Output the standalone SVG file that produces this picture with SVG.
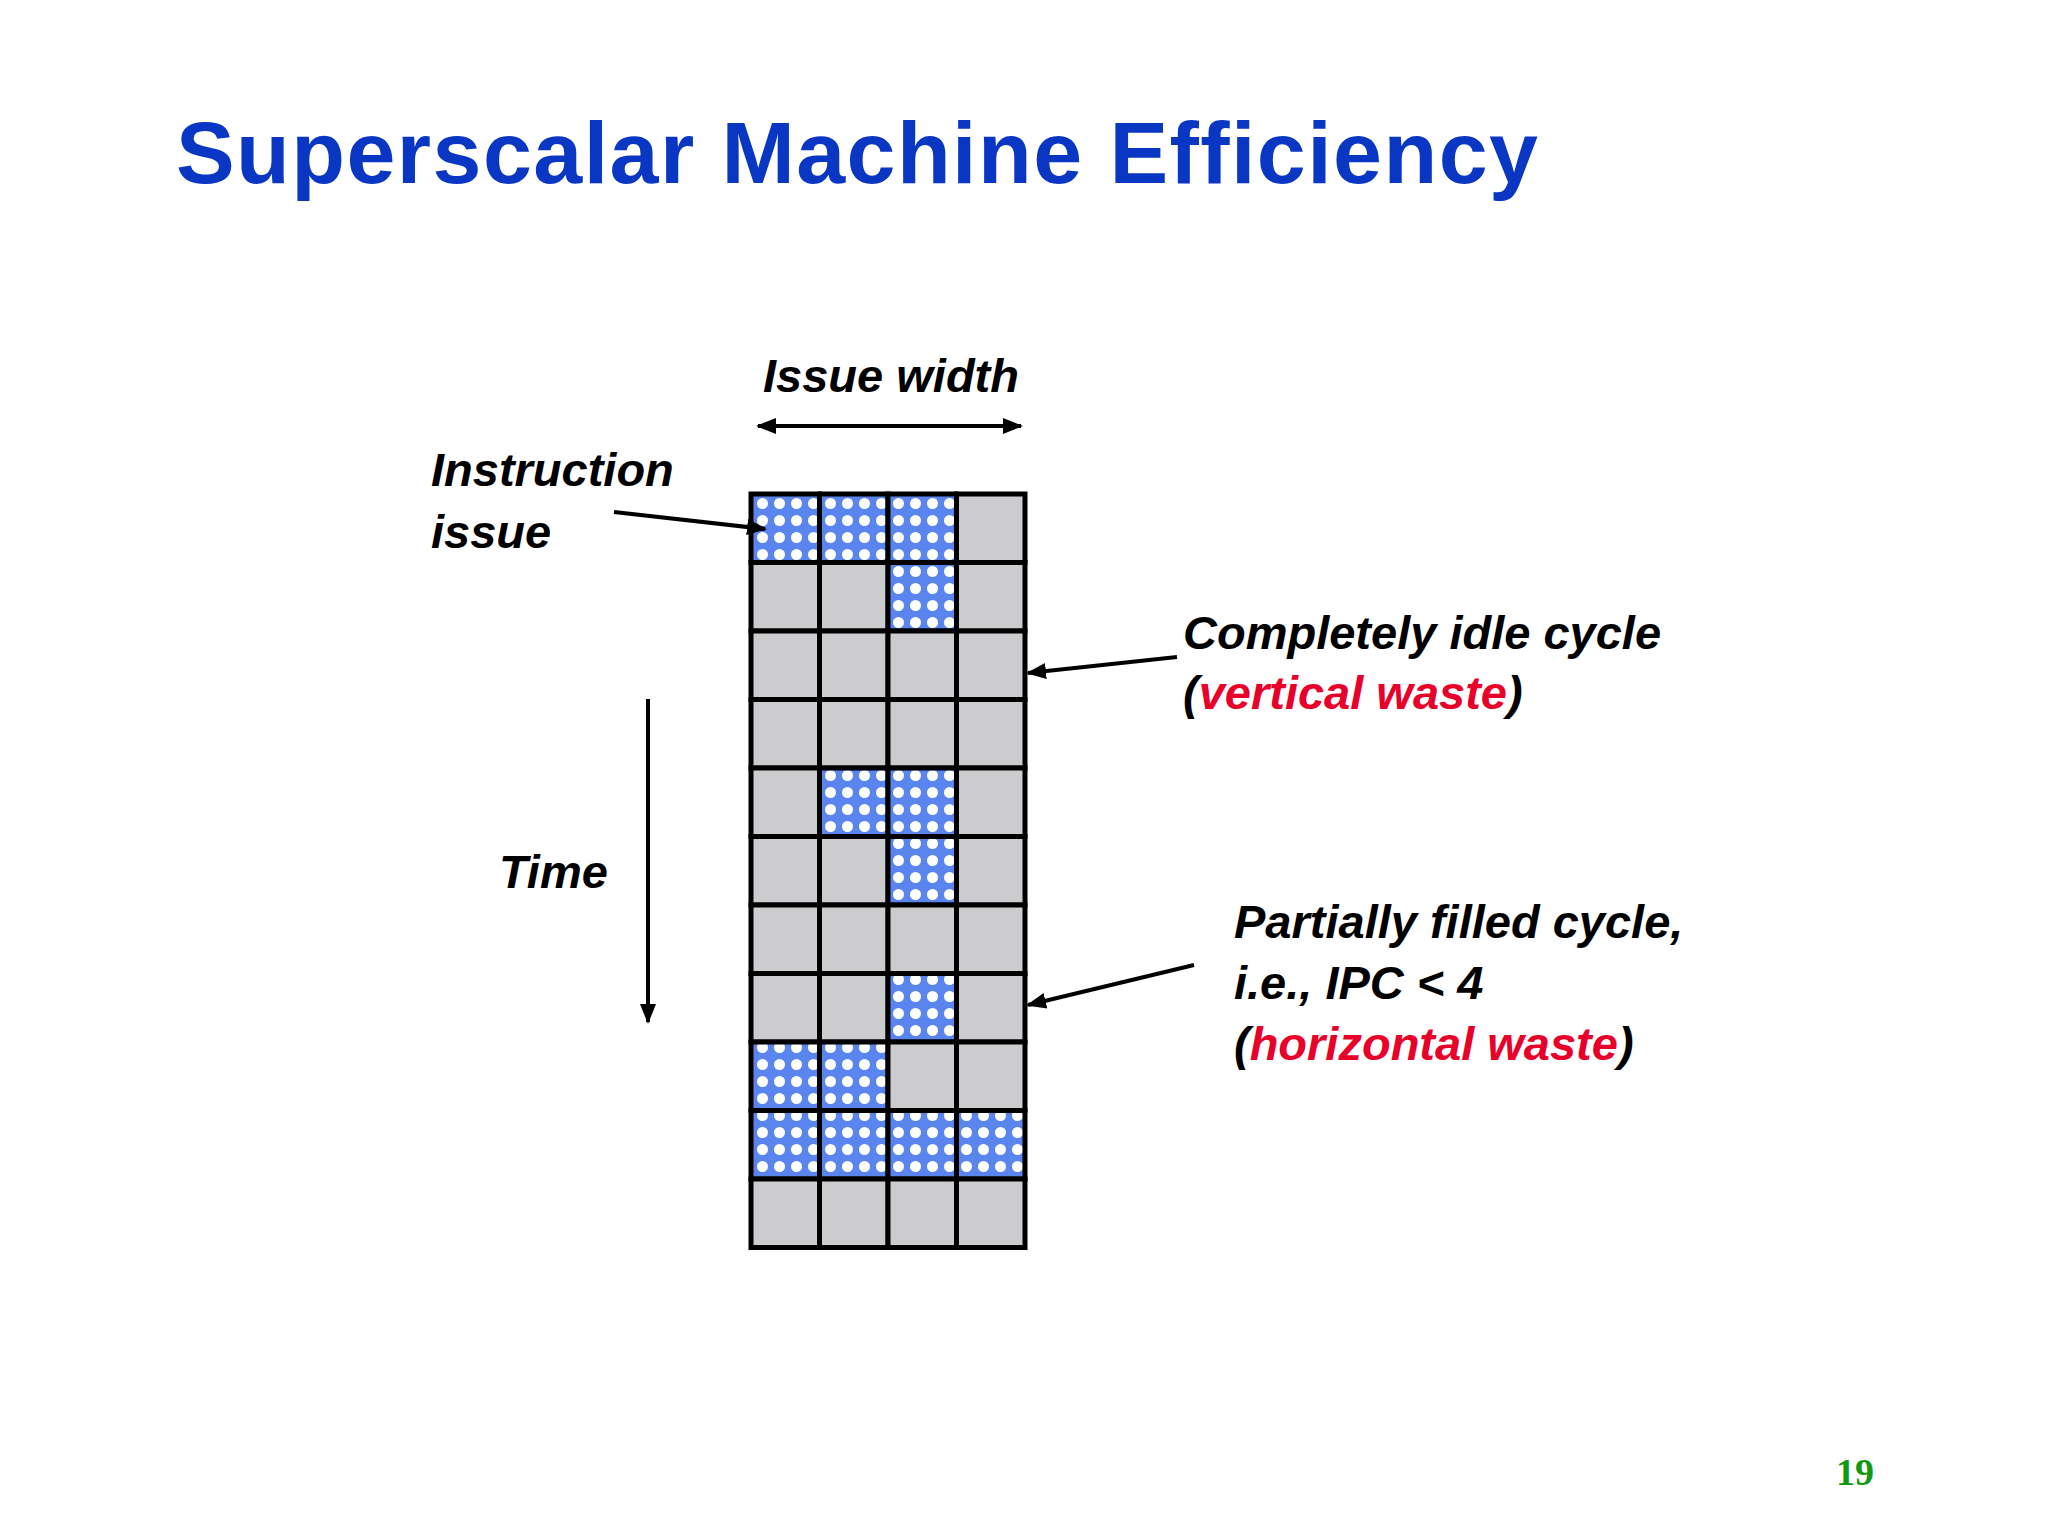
<svg xmlns="http://www.w3.org/2000/svg" width="2048" height="1536" viewBox="0 0 2048 1536">
<defs>
<pattern id="dots" width="17" height="17" patternUnits="userSpaceOnUse" x="751" y="494">
<rect width="17" height="17" fill="#5B85EE"/>
<circle cx="8.5" cy="8.5" r="5.5" fill="#fff"/>
</pattern>
<marker id="ah" viewBox="0 0 10 10" refX="9" refY="5" markerWidth="5" markerHeight="5" orient="auto-start-reverse"><path d="M0,1 L10,5 L0,9 z" fill="#000"/></marker>
</defs>
<style>
.t{font-family:"Liberation Sans",Arial,sans-serif;font-weight:bold;font-style:italic;font-size:47px;fill:#000}
.r{fill:#E8002A}
.g{fill:#CCCBCD;stroke:#000;stroke-width:5}
.b{fill:url(#dots);stroke:#000;stroke-width:5}
.c{stroke:#000;stroke-width:4;fill:none;marker-end:url(#ah)}
</style>
<rect width="2048" height="1536" fill="#fff"/>
<text x="176" y="183" font-family="'Liberation Sans',Arial,sans-serif" font-weight="bold" font-size="88" fill="#0A36C4" textLength="1362">Superscalar Machine Efficiency</text>
<g id="grid">
<g transform="translate(751,494)">
<rect class="b" x="0" y="0" width="68.5" height="68.5"/><rect class="b" x="68.5" y="0" width="68.5" height="68.5"/><rect class="b" x="137" y="0" width="68.5" height="68.5"/><rect class="g" x="205.5" y="0" width="68.5" height="68.5"/>
<rect class="g" x="0" y="68.5" width="68.5" height="68.5"/><rect class="g" x="68.5" y="68.5" width="68.5" height="68.5"/><rect class="b" x="137" y="68.5" width="68.5" height="68.5"/><rect class="g" x="205.5" y="68.5" width="68.5" height="68.5"/>
<rect class="g" x="0" y="137" width="68.5" height="68.5"/><rect class="g" x="68.5" y="137" width="68.5" height="68.5"/><rect class="g" x="137" y="137" width="68.5" height="68.5"/><rect class="g" x="205.5" y="137" width="68.5" height="68.5"/>
<rect class="g" x="0" y="205.5" width="68.5" height="68.5"/><rect class="g" x="68.5" y="205.5" width="68.5" height="68.5"/><rect class="g" x="137" y="205.5" width="68.5" height="68.5"/><rect class="g" x="205.5" y="205.5" width="68.5" height="68.5"/>
<rect class="g" x="0" y="274" width="68.5" height="68.5"/><rect class="b" x="68.5" y="274" width="68.5" height="68.5"/><rect class="b" x="137" y="274" width="68.5" height="68.5"/><rect class="g" x="205.5" y="274" width="68.5" height="68.5"/>
<rect class="g" x="0" y="342.5" width="68.5" height="68.5"/><rect class="g" x="68.5" y="342.5" width="68.5" height="68.5"/><rect class="b" x="137" y="342.5" width="68.5" height="68.5"/><rect class="g" x="205.5" y="342.5" width="68.5" height="68.5"/>
<rect class="g" x="0" y="411" width="68.5" height="68.5"/><rect class="g" x="68.5" y="411" width="68.5" height="68.5"/><rect class="g" x="137" y="411" width="68.5" height="68.5"/><rect class="g" x="205.5" y="411" width="68.5" height="68.5"/>
<rect class="g" x="0" y="479.5" width="68.5" height="68.5"/><rect class="g" x="68.5" y="479.5" width="68.5" height="68.5"/><rect class="b" x="137" y="479.5" width="68.5" height="68.5"/><rect class="g" x="205.5" y="479.5" width="68.5" height="68.5"/>
<rect class="b" x="0" y="548" width="68.5" height="68.5"/><rect class="b" x="68.5" y="548" width="68.5" height="68.5"/><rect class="g" x="137" y="548" width="68.5" height="68.5"/><rect class="g" x="205.5" y="548" width="68.5" height="68.5"/>
<rect class="b" x="0" y="616.5" width="68.5" height="68.5"/><rect class="b" x="68.5" y="616.5" width="68.5" height="68.5"/><rect class="b" x="137" y="616.5" width="68.5" height="68.5"/><rect class="b" x="205.5" y="616.5" width="68.5" height="68.5"/>
<rect class="g" x="0" y="685" width="68.5" height="68.5"/><rect class="g" x="68.5" y="685" width="68.5" height="68.5"/><rect class="g" x="137" y="685" width="68.5" height="68.5"/><rect class="g" x="205.5" y="685" width="68.5" height="68.5"/>
</g>
</g>
<g id="issue-width"><text class="t" x="891" y="392" text-anchor="middle">Issue width</text></g>
<g id="instruction-issue"><text class="t" x="431" y="486">Instruction</text><text class="t" x="431" y="548">issue</text></g>
<g id="time"><text class="t" x="499" y="888">Time</text></g>
<g id="idle"><text class="t" x="1183" y="649">Completely idle cycle</text><text class="t" x="1183" y="709">(<tspan class="r">vertical waste</tspan>)</text></g>
<g id="partial"><text class="t" x="1234" y="938">Partially filled cycle,</text><text class="t" x="1234" y="999">i.e., IPC &lt; 4</text><text class="t" x="1234" y="1060">(<tspan class="r">horizontal waste</tspan>)</text></g>
<g id="page"><text x="1855" y="1485" text-anchor="middle" font-family="'Liberation Serif',serif" font-weight="bold" font-size="38" fill="#119911">19</text></g>
<g id="connectors">
<path class="c" d="M758,426 L1021,426" style="marker-start:url(#ah)"/>
<path class="c" d="M614,512 L765,529"/>
<path class="c" d="M648,699 L648,1022"/>
<path class="c" d="M1177,657 L1028,673"/>
<path class="c" d="M1194,965 L1028,1005"/>
</g>
</svg>
